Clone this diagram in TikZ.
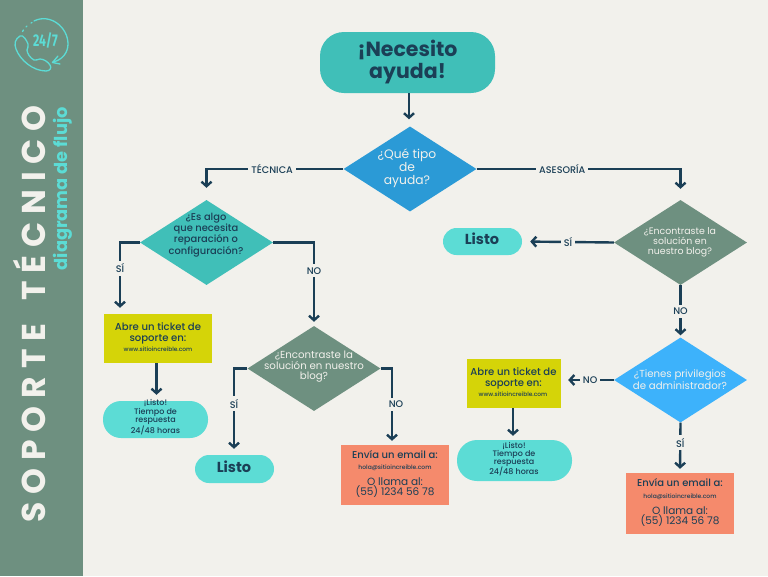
\documentclass[tikz,border=0pt]{standalone}
\usepackage{fontspec}
\setmainfont{Poppins}
\newfontfamily\pmed{Poppins Medium}
\usetikzlibrary{shapes.geometric,arrows.meta,calc}
\definecolor{bgc}{HTML}{F2F1EC}
\definecolor{sage}{HTML}{6E9080}
\definecolor{teal}{HTML}{40BFB8}
\definecolor{aqua}{HTML}{5CDCD5}
\definecolor{navy}{HTML}{1B3F56}
\definecolor{blueq}{HTML}{2B9AD6}
\definecolor{skyq}{HTML}{3DB2FB}
\definecolor{limeb}{HTML}{D5D408}
\definecolor{coral}{HTML}{F58A6C}
\newcommand{\ls}[2]{\fontsize{#1}{#2}\selectfont}
\tikzset{
  x=1pt,y=-1pt,
  dia/.style={shape=diamond,aspect=1.57,inner sep=0pt,minimum width=133pt,minimum height=85pt,draw=none,fill=#1},
  pill/.style={shape=rectangle,rounded corners=#1,draw=none,fill=aqua},
  sq/.style={shape=rectangle,draw=none,fill=#1},
  conn/.style={draw=navy,line width=2.4pt},
  arr/.style={conn,-{Straight Barb[length=4.5pt,width=10pt,line width=2.4pt]}},
  lab/.style={fill=bgc,inner sep=3pt,text=navy,font=\pmed\ls{9.6}{11}},
  txt/.style={align=center,inner sep=0pt,text=#1},
  icon/.style={draw=aqua,line width=1.3pt,line cap=round,line join=round},
}
\begin{document}
\begin{tikzpicture}
\useasboundingbox (0,0) rectangle (768,576);
\fill[bgc] (0,0) rectangle (768,576);
\fill[sage] (0,0) rectangle (83,576);

% icon
\draw[icon] (34,21) .. controls (50,13) and (68,27) .. (68,44) .. controls (68,53) and (62,60) .. (53,62);
\draw[icon] (58,56) -- (52.5,62.5) -- (60,64);
\draw[icon] (31,23) -- (32,22.5);
\draw[icon] (26,27) -- (27,26);
\draw[icon] (22.5,31.5) -- (23.5,30);
\draw[icon] (20,36) .. controls (15,39) and (14,44) .. (16,49) .. controls (20,60) and (33,71) .. (46,71) .. controls (50,71) and (52,68) .. (50,65) .. controls (48,62) and (44,59) .. (40,59) .. controls (37,59) and (36,61) .. (34,60) .. controls (30,58) and (27,53) .. (27,50) .. controls (27,48) and (29,47) .. (28,44) .. controls (27,41) and (23,34) .. (20,36) -- cycle;
\node[txt=aqua,font=\fontspec{Fira Sans}\bfseries\ls{17}{17}] (clock) at (45.5,41) {\scalebox{.72}[1]{24/7}};

% sidebar titles
\node[txt=bgc,rotate=90,anchor=base west,font=\bfseries\ls{33}{35}] (title) at (45.5,523) {\addfontfeature{LetterSpace=24}SOPORTE\hspace{8pt} TÉCNICO};
\node[txt=aqua,rotate=90,anchor=base west,font=\bfseries\ls{17.8}{20}] (subtitle) at (67.5,270.5) {diagrama de flujo};

% nodes
\node[pill=24pt,fill=teal,minimum width=175pt,minimum height=61pt] (start) at (407.5,62.5) {};
\node[txt=navy,font=\bfseries\ls{20.5}{22.5}] (starttx) at (407.5,62) {¡Necesito\\ayuda!};

\node[dia=blueq] (q1) at (410,169) {};
\node[txt=bgc,font=\ls{12.3}{13}] (q1t) at (407,168) {¿Qué tipo\\de\\ayuda?};

\node[dia=teal] (q2) at (206.5,242.5) {};
\node[txt=navy,font=\pmed\ls{9.9}{10.5}] (q2t) at (206,235) {¿Es algo\\que necesita\\reparación o\\configuración?};

\node[dia=sage] (q3) at (314,368.5) {};
\node[txt=bgc,font=\ls{10.2}{10.5}] (q3t) at (314,367) {¿Encontraste la\\solución en nuestro\\blog?};

\node[dia=sage] (q4) at (680.5,242.5) {};
\node[txt=bgc,font=\ls{9.4}{10}] (q4t) at (680,242.5) {¿Encontraste la\\solución en\\nuestro blog?};

\node[dia=skyq] (q5) at (680.5,380) {};
\node[txt=bgc,font=\ls{10.2}{9.9}] (q5t) at (680,379.5) {¿Tienes privilegios\\de administrador?};

\node[sq=limeb,minimum width=108pt,minimum height=49pt] (t1) at (158,338.5) {};
\node[txt=navy,font=\pmed\ls{10.1}{11}] (t1t) at (158,333) {Abre un ticket de\\soporte en:};
\node[txt=navy,font=\pmed\ls{5.9}{6}] (t1u) at (158,349.5) {www.sitioincreible.com};

\node[sq=limeb,minimum width=94pt,minimum height=49pt] (t2) at (514,383.5) {};
\node[txt=navy,font=\pmed\ls{10.1}{11}] (t2t) at (513.5,378) {Abre un ticket de\\soporte en:};
\node[txt=navy,font=\pmed\ls{5.9}{6}] (t2u) at (513,394.5) {www.sitioincreible.com};

\node[pill=18pt,minimum width=105pt,minimum height=37pt] (p1) at (155.5,419.5) {};
\node[txt=navy,font=\pmed\ls{8}{8.3}] (p1t) at (155.5,417) {¡Listo!\\Tiempo de\\respuesta\\24/48 horas};

\node[pill=20pt,minimum width=115pt,minimum height=41pt] (p2) at (514.5,460.5) {};
\node[txt=navy,font=\pmed\ls{8}{8}] (p2t) at (514,459) {¡Listo!\\Tiempo de\\respuesta\\24/48 horas};

\node[pill=14pt,minimum width=79pt,minimum height=28pt] (l1) at (234.5,469) {};
\node[txt=navy,font=\bfseries\ls{14.5}{16}] (l1t) at (234,467) {Listo};
\node[pill=13.5pt,minimum width=79pt,minimum height=27pt] (l2) at (482.5,241.5) {};
\node[txt=navy,font=\bfseries\ls{14.5}{16}] (l2t) at (482,239) {Listo};

\node[sq=coral,minimum width=108pt,minimum height=60pt] (e1) at (395,475) {};
\node[txt=navy,font=\pmed\ls{10}{11}] (e1t) at (395,454.5) {Envía un email a:};
\node[txt=navy,font=\pmed\ls{6}{6}] (e1u) at (395,467.5) {hola@sitioincreible.com};
\node[txt=navy,font=\ls{10.5}{10.8}] (e1c) at (395,487.5) {O llama al:\\(55) 1234 56 78};

\node[sq=coral,minimum width=108pt,minimum height=61pt] (e2) at (680,503.5) {};
\node[txt=navy,font=\pmed\ls{10}{11}] (e2t) at (680,483) {Envía un email a:};
\node[txt=navy,font=\pmed\ls{6}{6}] (e2u) at (680,496.5) {hola@sitioincreible.com};
\node[txt=navy,font=\ls{10.5}{10.8}] (e2c) at (680,516.5) {O llama al:\\(55) 1234 56 78};

% connectors
\draw[arr,shorten >=7pt] (start.south -| 409,0) -- (q1.north -| 409,0);
\draw[arr,shorten >=12pt] (q1.west) -| (q2.north) node[pos=.26,lab]{TÉCNICA};
\draw[arr,shorten >=11pt] (q1.east) -| (q4.north) node[pos=.21,lab]{ASESORÍA};
\draw[arr,shorten >=6pt] (q2.west) -| (t1.north -| 120,0) node[pos=.68,lab]{SÍ};
\draw[arr,shorten >=4pt] (q2.east) -| (q3.north) node[pos=.67,lab]{NO};
\draw[arr,shorten >=6pt] (t1.south -| 156.5,0) -- (p1.north -| 156.5,0);
\draw[arr,shorten >=6pt] (q3.west) -| (l1.north -| 234,0) node[pos=.705,lab]{SÍ};
\draw[arr,shorten >=4pt] (q3.east) -| (e1.north -| 392,0);
\node[lab] (no3) at (396,404.5) {NO};
\draw[arr,shorten >=8pt] (q4.west) -- (l2.east) node[midway,lab]{SÍ};
\draw[arr,shorten >=2pt] (q4.south) -- (q5.north) node[midway,lab]{NO};
\draw[arr,shorten >=7pt] (q5.west) -- (t2.east |- q5.west) node[pos=.45,lab]{NO};
\draw[arr,shorten >=4pt] (t2.south -| 513,0) -- (p2.north -| 513,0);
\draw[arr,shorten >=4pt] (q5.south) -- (e2.north) node[pos=.4,lab]{SÍ};
\end{tikzpicture}
\end{document}
